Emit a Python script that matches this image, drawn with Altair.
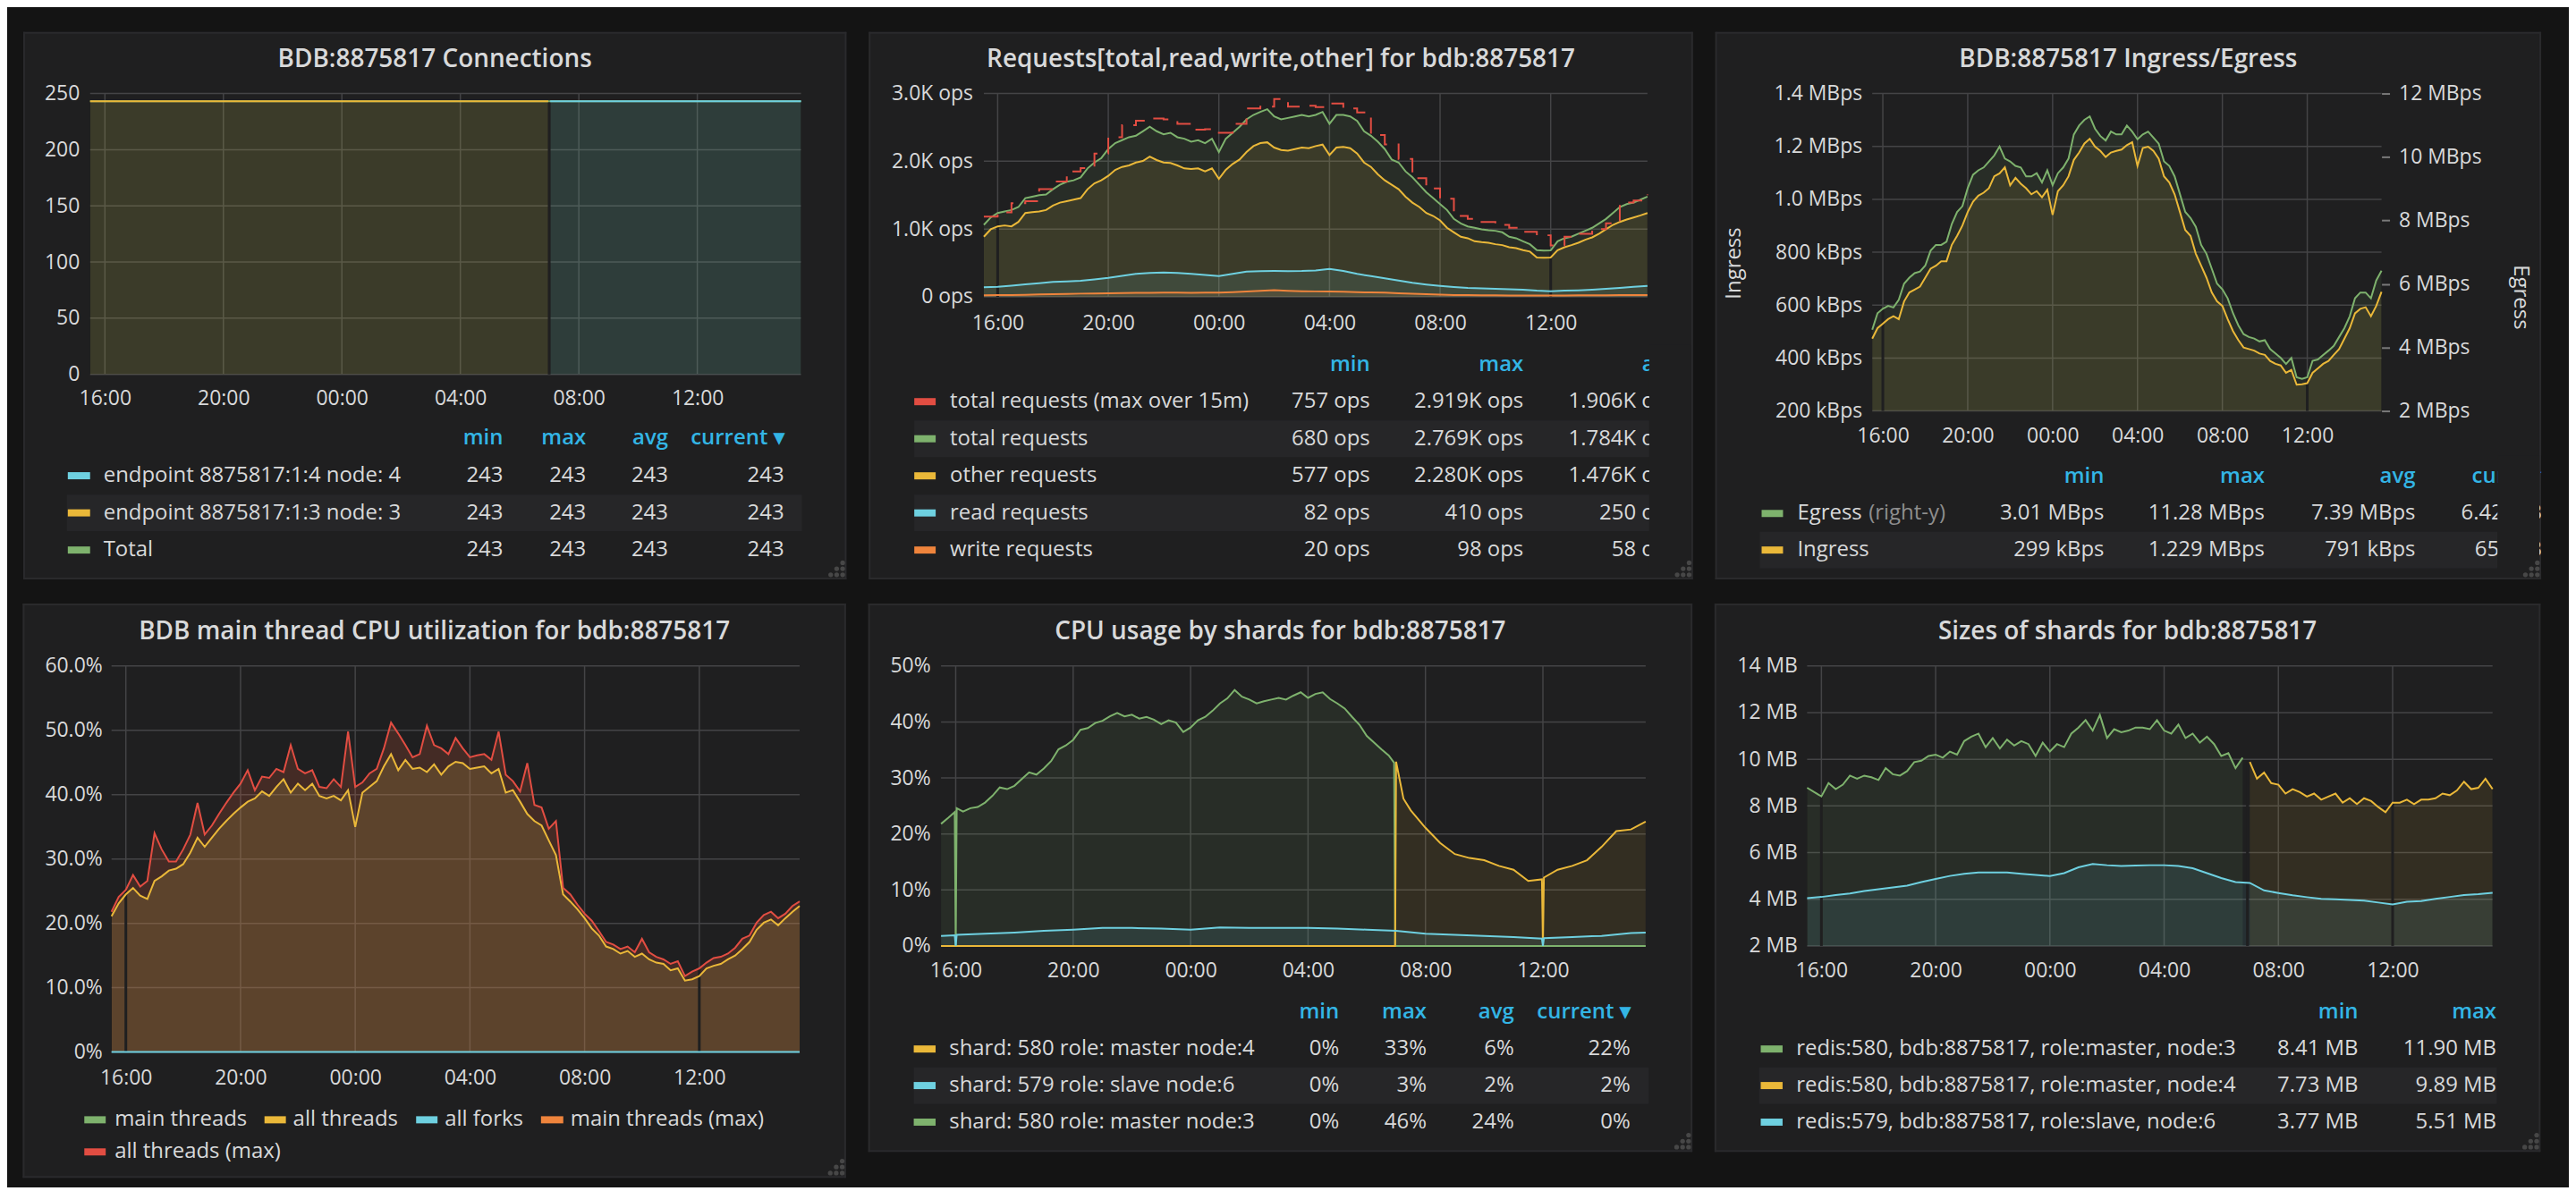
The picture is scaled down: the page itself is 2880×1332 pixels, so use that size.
import altair as alt
import pandas as pd

# ====================== DATA ======================
BASE = "2018-03-14 15:30:00"               # left edge of every time axis
GRID30 = list(range(0, 1441, 30))          # sample offsets (minutes after BASE)
GRID15 = list(range(0, 1441, 15))
TIME_TICKS = [30, 270, 510, 750, 990, 1230]  # 16:00 20:00 00:00 04:00 08:00 12:00

# ---- Panel 1 : connections
P1_YTICKS = [0, 50, 100, 150, 200, 250]
P1_YLABELS = ["0", "50", "100", "150", "200", "250"]
P1_TOTAL_T = [0, 1440]
P1_TOTAL_V = [243, 243]
P1_EP3_T = [0, 928]
P1_EP3_V = [243, 243]
P1_EP4_T = [932, 1440]
P1_EP4_V = [243, 243]
P1_GAP_T = [930]
P1_GAP_TOP = [243]
P1_NAMES = ["endpoint 8875817:1:4 node: 4", "endpoint 8875817:1:3 node: 3", "Total"]
P1_MIN = ["243", "243", "243"]
P1_MAX = ["243", "243", "243"]
P1_AVG = ["243", "243", "243"]
P1_CUR = ["243", "243", "243"]
P1_HEAD = ["min", "max", "avg", "current \u25BE"]

# ---- Panel 2 : requests (total / other every 15 min, the rest every 30 min)
P2_YTICKS = [0, 1000, 2000, 3000]
P2_YLABELS = ["0 ops", "1.0K ops", "2.0K ops", "3.0K ops"]
P2_TOTAL = [1061, 1171, 1237, 1259, 1281, 1325, 1456, 1478, 1500, 1509,
            1588, 1654, 1697, 1719, 1763, 1895, 1982, 2048, 2180, 2268,
            2311, 2355, 2377, 2443, 2509, 2443, 2399, 2421, 2355, 2333,
            2289, 2311, 2268, 2333, 2136, 2333, 2421, 2509, 2618, 2684,
            2728, 2769, 2662, 2618, 2640, 2662, 2684, 2662, 2684, 2728,
            2553, 2684, 2684, 2662, 2596, 2443, 2377, 2289, 2180, 2026,
            1982, 1851, 1763, 1654, 1544, 1456, 1368, 1281, 1149, 1083,
            1039, 1018, 996, 982, 974, 952, 886, 864, 820, 776,
            689, 682, 685, 820, 864, 886, 930, 974, 1018, 1083,
            1149, 1237, 1325, 1368, 1390, 1434, 1478]
P2_OTHER = [886, 996, 1039, 1053, 1039, 1105, 1237, 1250, 1259, 1281,
            1346, 1390, 1412, 1434, 1456, 1588, 1675, 1719, 1785, 1873,
            1917, 1939, 1982, 2004, 2070, 2018, 1982, 1974, 1939, 1895,
            1886, 1895, 1851, 1895, 1741, 1873, 1961, 2026, 2136, 2224,
            2268, 2280, 2202, 2167, 2158, 2180, 2202, 2193, 2224, 2246,
            2092, 2202, 2211, 2193, 2114, 1982, 1917, 1807, 1719, 1654,
            1588, 1478, 1390, 1325, 1237, 1193, 1127, 1018, 952, 886,
            864, 820, 807, 798, 776, 763, 732, 719, 689, 667,
            579, 577, 580, 689, 732, 763, 798, 842, 877, 930,
            996, 1061, 1105, 1140, 1171, 1202, 1237]
P2_READ = [140, 149, 165, 184, 200, 219, 228, 237, 258, 281, 310, 338, 352, 360, 352, 338, 322, 307,
           340, 373, 380, 382, 380, 382, 390, 410, 382, 338, 305, 272, 240, 206, 182, 162, 145, 132,
           125, 118, 112, 105, 90, 82, 90, 96, 105, 118, 132, 149, 162]
P2_WRITE = [22, 24, 27, 30, 34, 39, 43, 47, 50, 53, 56, 58, 60, 61, 61, 60, 61, 61,
            68, 78, 88, 98, 88, 82, 80, 78, 74, 68, 64, 61, 52, 45, 38, 31, 27, 24,
            22, 21, 20, 20, 20, 20, 20, 21, 22, 23, 24, 25, 26]
P2_MAX15 = [1184, 1246, 1380, 1412, 1588, 1700, 1851, 1900, 2114, 2355, 2531, 2600, 2632, 2618, 2553, 2465, 2474, 2420,
            2553, 2780, 2807, 2919, 2807, 2820, 2800, 2851, 2780, 2719, 2386, 2250, 2035, 1751, 1600, 1447, 1193, 1150,
            1105, 1060, 1018, 960, 908, 757, 886, 930, 1000, 1083, 1390, 1420, 1509]
P2_GAP_T = [30, 1230]
P2_GAP_TOP = [1237, 685]
P2_NAMES = ["total requests (max over 15m)", "total requests", "other requests", "read requests", "write requests"]
P2_MIN = ["757 ops", "680 ops", "577 ops", "82 ops", "20 ops"]
P2_MAX = ["2.919K ops", "2.769K ops", "2.280K ops", "410 ops", "98 ops"]
P2_AVG = ["1.906K ops", "1.784K ops", "1.476K ops", "250 ops", "58 ops"]
P2_HEAD = ["min", "max", "avg"]

# ---- Panel 3 : ingress (kBps, left) / egress (MBps, right), every 15 min
P3_LTICKS = [200, 400, 600, 800, 1000, 1200, 1400]
P3_LLABELS = ["200 kBps", "400 kBps", "600 kBps", "800 kBps", "1.0 MBps", "1.2 MBps", "1.4 MBps"]
P3_RTICKS = [2, 4, 6, 8, 10, 12]
P3_RLABELS = ["2 MBps", "4 MBps", "6 MBps", "8 MBps", "10 MBps", "12 MBps"]
P3_INGRESS = [473, 513, 530, 547, 558, 547, 614, 648, 659, 670,
              704, 738, 749, 766, 766, 828, 862, 901, 952, 991,
              1014, 1025, 1042, 1087, 1098, 1121, 1053, 1081, 1059, 1042,
              1019, 1031, 1008, 1036, 941, 1031, 1053, 1087, 1149, 1177,
              1211, 1229, 1199, 1183, 1160, 1177, 1183, 1188, 1205, 1216,
              1126, 1194, 1199, 1183, 1154, 1087, 1064, 1019, 952, 884,
              862, 794, 749, 704, 648, 614, 597, 547, 502, 468,
              440, 434, 428, 417, 412, 389, 378, 372, 344, 355,
              299, 301, 305, 344, 361, 378, 389, 412, 434, 473,
              513, 569, 586, 592, 558, 597, 650]
P3_EGRESS = [4.56, 5.08, 5.22, 5.31, 5.26, 5.50, 6.01, 6.20, 6.34, 6.39,
             6.58, 7.05, 7.23, 7.23, 7.33, 7.89, 8.27, 8.45, 9.02, 9.44,
             9.58, 9.67, 9.86, 10.05, 10.33, 9.95, 9.86, 9.72, 9.67, 9.39,
             9.39, 9.49, 9.20, 9.58, 9.11, 9.49, 9.67, 9.95, 10.71, 10.99,
             11.17, 11.28, 10.89, 10.66, 10.52, 10.80, 10.71, 10.71, 10.99, 10.80,
             10.56, 10.71, 10.80, 10.61, 10.42, 9.86, 9.72, 9.39, 8.83, 8.27,
             8.08, 7.80, 7.23, 6.95, 6.48, 6.01, 5.83, 5.55, 5.08, 4.70,
             4.42, 4.33, 4.28, 4.19, 4.23, 3.95, 3.81, 3.67, 3.48, 3.67,
             3.06, 3.01, 3.06, 3.58, 3.62, 3.76, 3.90, 4.05, 4.33, 4.61,
             4.98, 5.55, 5.73, 5.73, 5.55, 6.11, 6.42]
P3_GAP_T = [30, 1230]
P3_GAP_TOP = [586, 327]
P3_NAMES = ["Egress", "Ingress"]
P3_MIN = ["3.01 MBps", "299 kBps"]
P3_MAX = ["11.28 MBps", "1.229 MBps"]
P3_AVG = ["7.39 MBps", "791 kBps"]
P3_CUR = ["6.42 MBps", "650 kBps"]
P3_HEAD = ["min", "max", "avg", "current \u25BE"]

# ---- Panel 4 : main thread CPU (15 min samples)
P4_YTICKS = [0, 10, 20, 30, 40, 50, 60]
P4_YLABELS = ["0%", "10.0%", "20.0%", "30.0%", "40.0%", "50.0%", "60.0%"]
P4_ALL = [21.1, 23.1, 24.5, 25.5, 24.3, 23.8, 26.6, 27.3, 28.2, 28.5,
          29.2, 31.0, 33.3, 31.9, 33.3, 34.7, 35.9, 37.0, 38.0, 38.9,
          39.4, 40.5, 39.8, 41.2, 42.4, 40.3, 41.7, 40.7, 41.7, 39.8,
          39.4, 39.8, 39.1, 40.7, 35.0, 40.3, 41.2, 42.1, 44.4, 46.3,
          43.8, 45.4, 44.0, 44.2, 43.5, 44.7, 43.1, 44.4, 45.1, 44.9,
          44.0, 44.2, 44.4, 43.3, 44.0, 40.3, 40.7, 38.9, 37.0, 35.9,
          35.2, 32.9, 30.6, 24.5, 23.4, 22.2, 20.8, 19.2, 18.1, 16.4,
          16.0, 15.3, 15.7, 14.8, 15.3, 14.4, 13.9, 13.7, 12.7, 13.0,
          11.1, 11.3, 11.8, 13.0, 13.4, 13.7, 14.4, 15.0, 16.0, 17.1,
          19.0, 20.1, 20.6, 19.7, 20.8, 21.8, 22.7]
P4_ALLMAX = [21.8, 24.1, 25.2, 27.5, 25.7, 26.6, 34.0, 31.5, 29.6, 29.6,
             31.5, 33.8, 38.7, 33.8, 35.2, 37.0, 38.7, 40.3, 41.7, 43.8,
             40.7, 42.8, 42.6, 44.0, 43.5, 47.7, 44.0, 43.3, 43.8, 41.2,
             41.0, 42.4, 41.2, 49.8, 41.2, 41.9, 43.3, 44.0, 47.2, 51.2,
             49.5, 47.7, 45.8, 46.3, 50.7, 47.7, 47.2, 46.3, 48.8, 47.2,
             45.8, 46.1, 46.3, 45.4, 49.8, 43.1, 42.1, 40.5, 44.9, 38.4,
             38.0, 34.7, 35.9, 25.5, 24.5, 22.9, 21.5, 20.4, 18.8, 17.1,
             16.7, 16.0, 16.4, 15.5, 17.6, 15.5, 14.8, 14.4, 13.7, 14.1,
             11.8, 12.5, 13.0, 13.9, 14.6, 14.8, 15.3, 16.2, 17.6, 18.1,
             20.1, 21.3, 21.8, 20.8, 21.5, 22.7, 23.4]
P4_FORKS_T = [0, 1440]
P4_FORKS = [0.0, 0.0]
P4_GAP_T = [30, 1230]
P4_GAP_TOP = [25.2, 13.0]
P4_NAMES = ["main threads", "all threads", "all forks", "main threads (max)", "all threads (max)"]

# ---- Panel 5 : CPU by shards
P5_YTICKS = [0, 10, 20, 30, 40, 50]
P5_YLABELS = ["0%", "10%", "20%", "30%", "40%", "50%"]
P5_N3_T = [0, 15, 28, 30, 32, 45] + GRID15[4:62] + [926, 928, 1440]
P5_N3_V = [21.8, 22.9, 23.9, 0, 24.6, 24.0,
           24.6, 24.8, 25.6, 26.8, 28.3, 28.0, 28.6, 29.8, 31.0, 30.6,
           31.7, 33.0, 35.1, 35.8, 36.8, 38.6, 38.9, 39.8, 40.2, 41.0,
           41.6, 41.0, 41.3, 40.6, 40.9, 40.4, 39.6, 40.3, 39.9, 38.2,
           39.0, 40.3, 40.9, 42.0, 43.3, 44.2, 45.7, 44.5, 44.0, 43.3,
           43.7, 44.0, 44.3, 44.0, 44.7, 45.3, 44.3, 45.0, 45.3, 44.1,
           43.3, 42.4, 40.9, 39.5, 37.5, 36.3, 35.1, 34.0,
           32.7, 0, 0]
P5_N4_T = [0, 928, 930, 945, 960, 990, 1020, 1050, 1080, 1110, 1140, 1170, 1200, 1228, 1230, 1232, 1260, 1290,
           1320, 1350, 1380, 1410, 1440]
P5_N4_V = [0, 0, 32.9, 26.3, 24.2, 21.1, 18.4, 16.4, 15.7, 15.3, 14.3, 13.6, 11.6, 11.9, 0, 12.2, 13.6, 14.3,
           15.3, 17.7, 20.5, 20.8, 22.2]
P5_N6_T = [0, 28, 30, 32, 90, 150, 210, 270, 330, 390, 450, 510, 570, 630, 690, 750, 810, 870, 930, 990, 1050,
           1110, 1170, 1228, 1230, 1232, 1290, 1350, 1410, 1440]
P5_N6_V = [1.8, 1.9, 0, 2.0, 2.2, 2.4, 2.7, 2.9, 3.2, 3.2, 3.1, 2.9, 3.3, 3.2, 3.2, 3.2, 3.1, 2.9, 2.7, 2.2, 2.0,
           1.8, 1.6, 1.3, 0, 1.4, 1.6, 1.8, 2.3, 2.4]
P5_NAMES = ["shard: 580 role: master node:4", "shard: 579 role: slave node:6", "shard: 580 role: master node:3"]
P5_MIN = ["0%", "0%", "0%"]
P5_MAX = ["33%", "3%", "46%"]
P5_AVG = ["6%", "2%", "24%"]
P5_CUR = ["22%", "2%", "0%"]
P5_HEAD = ["min", "max", "avg", "current \u25BE"]

# ---- Panel 6 : shard sizes (masters every 15 min, slave every 30 min)
P6_YTICKS = [2, 4, 6, 8, 10, 12, 14]
P6_YLABELS = ["2 MB", "4 MB", "6 MB", "8 MB", "10 MB", "12 MB", "14 MB"]
P6_N3_T = GRID15[:62]
P6_N3_V = [8.78, 8.59, 8.41, 8.98, 8.72, 8.91, 9.30, 9.17, 9.30, 9.23,
           9.11, 9.62, 9.36, 9.30, 9.49, 9.88, 9.94, 10.14, 10.20, 10.07,
           10.33, 10.20, 10.78, 10.97, 11.10, 10.52, 10.91, 10.46, 10.84, 10.59,
           10.78, 10.65, 10.14, 10.71, 10.33, 10.65, 10.52, 11.10, 11.36, 11.68,
           11.23, 11.90, 10.91, 11.29, 11.16, 11.23, 11.36, 11.36, 11.29, 11.68,
           11.23, 11.10, 11.49, 10.91, 11.10, 10.71, 10.97, 10.65, 10.14, 10.26,
           9.62, 10.07]
P6_N4_T = GRID15[62:]
P6_N4_V = [9.89, 9.17, 9.43, 8.98, 8.91, 8.53, 8.72, 8.59, 8.40, 8.53,
           8.27, 8.40, 8.53, 8.14, 8.33, 8.08, 8.33, 8.21, 7.95, 7.73,
           8.14, 8.14, 8.27, 8.08, 8.27, 8.27, 8.33, 8.53, 8.46, 8.66,
           9.04, 8.72, 8.78, 9.17, 8.72]
P6_N6_V = [4.05, 4.10, 4.18, 4.25, 4.35, 4.43, 4.51, 4.58, 4.74, 4.87, 5.00, 5.09, 5.15, 5.15, 5.15, 5.09, 5.04, 5.00,
           5.12, 5.37, 5.51, 5.46, 5.43, 5.45, 5.46, 5.46, 5.43, 5.33, 5.12, 4.91, 4.74, 4.70, 4.38, 4.27, 4.17, 4.09,
           4.02, 4.00, 3.97, 3.94, 3.86, 3.78, 3.89, 3.92, 4.02, 4.10, 4.18, 4.22, 4.28]
P6_GAP_T = [30, 925, 1230]
P6_GAP_TOP = [8.5, 9.9, 8.14]
P6_NAMES = ["redis:580, bdb:8875817, role:master, node:3", "redis:580, bdb:8875817, role:master, node:4",
            "redis:579, bdb:8875817, role:slave, node:6"]
P6_MIN = ["8.41 MB", "7.73 MB", "3.77 MB"]
P6_MAX = ["11.90 MB", "9.89 MB", "5.51 MB"]
P6_HEAD = ["min", "max"]

# ====================== STYLE ======================
FONT = "Open Sans"
PAGE = "#141414"
PANEL = "#1f1f20"
BORDER = "#2a2a2c"
ALTROW = "#262628"
TEXT = "#d8d9da"
HEAD = "#33b5e5"
MUTED = "#8e8e8e"
GRIDC = "#444446"
DOTC = "#474747"
GREEN, YELLOW, BLUE, ORANGE, RED = "#7EB26D", "#EAB839", "#6ED0E0", "#EF843C", "#E24D42"

# panel geometry in page pixels (minus the 8px page margin)
G1 = dict(PL=15, PR=938, PT=25, PB=639, XL=90, XR=887, YT=94, YB=409, TX=476.5, TY=56)
G2 = dict(PL=961, PR=1885, PT=25, PB=639, XL=1090, XR=1834, YT=94, YB=322, TX=1423, TY=56)
G3 = dict(PL=1908, PR=2834, PT=25, PB=639, XL=2084, XR=2655, YT=94, YB=450, TX=2371, TY=56)
G4 = dict(PL=15, PR=938, PT=664, PB=1308, XL=114.5, XR=886, YT=734, YB=1167, TX=476.5, TY=696)
G5 = dict(PL=961, PR=1885, PT=664, PB=1279, XL=1042.6, XR=1832.6, YT=734, YB=1048, TX=1423, TY=696)
G6 = dict(PL=1908, PR=2834, PT=664, PB=1279, XL=2011.8, XR=2780.3, YT=734, YB=1048, TX=2371, TY=696)

T0 = pd.Timestamp(BASE)
ONE = pd.DataFrame({"k": [0]})


def ts(mins):
    return [(T0 + pd.Timedelta(minutes=int(m))).strftime("%Y-%m-%dT%H:%M:%S") for m in mins]


def dt(m):
    t = T0 + pd.Timedelta(minutes=int(m))
    return alt.DateTime(year=t.year, month=t.month, date=t.day, hours=t.hour, minutes=t.minute)


def lab_expr(vals, labs):
    e = "''"
    for v, l in reversed(list(zip(vals, labs))):
        e = "datum.value == %s ? '%s' : (%s)" % (v, l, e)
    return e


AXC = dict(grid=False, domain=False, labelFont=FONT, labelFontSize=23, labelColor=TEXT,
           labelFlush=False, labelOverlap=False, zindex=1)


def x_enc(pad):
    ax = alt.Axis(values=[dt(m) for m in TIME_TICKS], format="%H:%M", formatType="time", ticks=False,
                  tickSize=0, labelPadding=pad, labelBaseline="middle", **AXC)
    return alt.X("t:T", scale=alt.Scale(domain=[dt(0), dt(1440)], nice=False), axis=ax, title=None)


def y_axis(vals, labs, pad, **kw):
    d = dict(values=vals, labelExpr=lab_expr(vals, labs), ticks=False, tickSize=0, labelPadding=pad)
    d.update(AXC)
    d.update(kw)
    return alt.Axis(**d)


def y_enc(lo, hi, axis, title=None):
    return alt.Y("v:Q", scale=alt.Scale(domain=[lo, hi], nice=False, zero=False), axis=axis, title=title)


def sdf(T, V):
    return pd.DataFrame({"t": ts(T), "v": V})


def area(T, V, c, xe, ye):
    return alt.Chart(sdf(T, V)).mark_area(color=c, fillOpacity=0.1, clip=True).encode(x=xe, y=ye)


def line(T, V, c, xe, ye, **kw):
    return alt.Chart(sdf(T, V)).mark_line(color=c, strokeWidth=2, **kw).encode(x=xe, y=ye)


def gaps(T, TOP, lo, xe, ye):
    d = sdf(T, TOP)
    d["b"] = lo
    return alt.Chart(d).mark_rule(color=PANEL, strokeWidth=3).encode(x=xe, y=ye, y2=alt.Y2("b:Q"))


def hgrid(vals, ye):
    return alt.Chart(pd.DataFrame({"v": vals})).mark_rule(color=GRIDC, strokeWidth=1.5).encode(y=ye)


def vgrid(xe):
    return alt.Chart(pd.DataFrame({"t": ts(TIME_TICKS)})).mark_rule(color=GRIDC, strokeWidth=1.5).encode(x=xe)


def box(color, x0, x1, y0, y1):
    return alt.Chart(ONE).mark_rect(color=color).encode(
        x=alt.value(x0), x2=alt.value(x1), y=alt.value(y0), y2=alt.value(y1))


def table_legend(g, names, colors, columns, headers, col_x, alt_rows, head_y, last_y, sw, name_x, alt_x,
                 extra=None):
    XL, Y0 = g["XL"], g["YT"]
    keys = ["r%d" % i for i in range(len(names))]
    ysc = alt.Scale(type="point", domain=["h"] + keys, range=[head_y - Y0, last_y - Y0], padding=0)
    ye = alt.Y("key:N", scale=ysc, axis=None)
    df = pd.DataFrame({"key": keys, "name": names, "color": colors})
    for i, col in enumerate(columns):
        df["c%d" % i] = col
    layers = [
        alt.Chart(df.iloc[alt_rows]).mark_rule(color=ALTROW, strokeWidth=41).encode(
            y=ye, x=alt.value(alt_x[0] - XL), x2=alt.value(alt_x[1] - XL)),
        alt.Chart(df).mark_rule(strokeWidth=8).encode(
            y=ye, x=alt.value(sw[0] - XL), x2=alt.value(sw[1] - XL), color=alt.Color("color:N", scale=None)),
        alt.Chart(df).mark_text(align="left", baseline="middle", font=FONT, fontSize=24, color=TEXT).encode(
            y=ye, x=alt.value(name_x - XL), text="name:N"),
    ]
    if extra:
        for (row, txt, xx, col) in extra:
            layers.append(alt.Chart(pd.DataFrame({"key": [row], "label": [txt]})).mark_text(
                align="left", baseline="middle", font=FONT, fontSize=24, color=col).encode(
                y=ye, x=alt.value(xx - XL), text="label:N"))
    for i, cx in enumerate(col_x):
        layers.append(alt.Chart(df).mark_text(align="right", baseline="middle", font=FONT, fontSize=24,
                                              color=TEXT).encode(
            y=ye, x=alt.value(cx - XL), text="c%d:N" % i))
        layers.append(alt.Chart(pd.DataFrame({"key": ["h"], "label": [headers[i]]})).mark_text(
            align="right", baseline="middle", font=FONT, fontSize=24, fontWeight=600, color=HEAD).encode(
            y=ye, x=alt.value(cx - XL), text="label:N"))
    return alt.layer(*layers)


def inline_legend(g, names, colors, row_y, items):
    XL, Y0 = g["XL"], g["YT"]
    ysc = alt.Scale(type="point", domain=["a", "b"], range=[row_y[0] - Y0, row_y[1] - Y0], padding=0)
    ye = alt.Y("key:N", scale=ysc, axis=None)
    layers = []
    for name, col, (s0, s1, tx, row) in zip(names, colors, items):
        d = pd.DataFrame({"key": [row], "name": [name]})
        layers.append(alt.Chart(d).mark_rule(strokeWidth=8, color=col).encode(
            y=ye, x=alt.value(s0 - XL), x2=alt.value(s1 - XL)))
        layers.append(alt.Chart(d).mark_text(align="left", baseline="middle", font=FONT, fontSize=24,
                                             color=TEXT).encode(y=ye, x=alt.value(tx - XL), text="name:N"))
    return alt.layer(*layers)


def build_panel(g, title, data, legend, covers=()):
    XL, Y0 = g["XL"], g["YT"]
    W = g["XR"] - XL
    H = g["YB"] - Y0
    x0, x1 = g["PL"] - XL, g["PR"] - XL
    y0, y1 = g["PT"] - Y0, g["PB"] - Y0
    deco = [
        box(PANEL, x0, x1, y0, y1),
        box(BORDER, x0, x0 + 2, y0, y1),
        box(BORDER, x1 - 2, x1, y0, y1),
        box(BORDER, x0, x1, y0, y0 + 2),
        box(BORDER, x0, x1, y1 - 2, y1),
    ]
    dots = [alt.Chart(ONE).mark_circle(size=28, color=DOTC, opacity=1).encode(
        x=alt.value(x1 + dx), y=alt.value(y1 + dy))
        for dx, dy in [(-17.7, -5.3), (-11, -5.3), (-4.3, -5.3), (-11, -12), (-4.3, -12), (-4.3, -18.7)]]
    cov = [box(c, a - XL, b - XL, t - Y0, u - Y0) for (c, a, b, t, u) in covers]
    ttl = alt.Chart(ONE).mark_text(text=title, font=FONT, fontSize=28, fontWeight=600, color=TEXT,
                                   align="center", baseline="middle").encode(
        x=alt.value(g["TX"] - XL), y=alt.value(g["TY"] - Y0))
    return alt.layer(*deco, *data, legend, *cov, *dots, ttl).resolve_scale(y="independent").properties(
        width=W, height=H)


# ====================== PANELS ======================
# Panel 1
xe = x_enc(27)
ye = y_enc(0, 250, y_axis(P1_YTICKS, P1_YLABELS, 12))
p1 = build_panel(G1, "BDB:8875817 Connections", [alt.layer(
    hgrid(P1_YTICKS, ye), vgrid(xe),
    area(P1_TOTAL_T, P1_TOTAL_V, GREEN, xe, ye),
    area(P1_EP3_T, P1_EP3_V, YELLOW, xe, ye),
    area(P1_EP4_T, P1_EP4_V, BLUE, xe, ye),
    gaps(P1_GAP_T, P1_GAP_TOP, 0, xe, ye),
    line(P1_TOTAL_T, P1_TOTAL_V, GREEN, xe, ye),
    line(P1_EP3_T, P1_EP3_V, YELLOW, xe, ye),
    line(P1_EP4_T, P1_EP4_V, BLUE, xe, ye),
)], table_legend(G1, P1_NAMES, [BLUE, YELLOW, GREEN], [P1_MIN, P1_MAX, P1_AVG, P1_CUR], P1_HEAD,
                 [553, 646, 738, 868], [1], 481, 606, (65, 90), 105, (64, 888)))

# Panel 2
xe = x_enc(30)
ye = y_enc(0, 3000, y_axis(P2_YTICKS, P2_YLABELS, 12.5))
p2 = build_panel(G2, "Requests[total,read,write,other] for bdb:8875817", [alt.layer(
    hgrid(P2_YTICKS, ye), vgrid(xe),
    area(GRID15, P2_TOTAL, GREEN, xe, ye),
    area(GRID15, P2_OTHER, YELLOW, xe, ye),
    area(GRID30, P2_READ, BLUE, xe, ye),
    area(GRID30, P2_WRITE, ORANGE, xe, ye),
    gaps(P2_GAP_T, P2_GAP_TOP, 0, xe, ye),
    line(GRID30, P2_WRITE, ORANGE, xe, ye),
    line(GRID30, P2_READ, BLUE, xe, ye),
    line(GRID15, P2_OTHER, YELLOW, xe, ye),
    line(GRID15, P2_TOTAL, GREEN, xe, ye),
    line(GRID30, P2_MAX15, RED, xe, ye, strokeDash=[18, 12], interpolate="step-after"),
)], table_legend(G2, P2_NAMES, [RED, GREEN, YELLOW, BLUE, ORANGE], [P2_MIN, P2_MAX, P2_AVG], P2_HEAD,
                 [1523, 1695, 1868], [1, 3], 398, 606, (1012, 1036), 1052, (1012, 1836)),
    covers=[(PANEL, 1836, 1883, 376, 630)])

# Panel 3 (two independent y scales)
xe = x_enc(28)
yl_ax = y_axis(P3_LTICKS, P3_LLABELS, 11.6, title="Ingress", titleFont=FONT, titleFontSize=24,
               titleColor=TEXT, titleFontWeight="normal", titleAngle=270, titleX=-155, titleY=190,
               titleAlign="center", titleBaseline="middle")
yr_ax = y_axis(P3_RTICKS, P3_RLABELS, 10, orient="right", ticks=True, tickSize=9, tickWidth=2,
               tickColor="#7a7a7a", title="Egress", titleFont=FONT, titleFontSize=24, titleColor=TEXT,
               titleFontWeight="normal", titleAngle=90, titleX=155, titleY=228, titleAlign="center",
               titleBaseline="middle")
yl = y_enc(200, 1400, yl_ax, "Ingress")
yl_n = y_enc(200, 1400, None)
yr = y_enc(2, 12, yr_ax, "Egress")
yr_n = y_enc(2, 12, None)
p3 = build_panel(G3, "BDB:8875817 Ingress/Egress", [
    hgrid(P3_LTICKS, yl), vgrid(xe),
    area(GRID15, P3_INGRESS, YELLOW, xe, yl_n),
    area(GRID15, P3_EGRESS, GREEN, xe, yr),
    gaps(P3_GAP_T, P3_GAP_TOP, 200, xe, yl_n),
    line(GRID15, P3_INGRESS, YELLOW, xe, yl_n),
    line(GRID15, P3_EGRESS, GREEN, xe, yr_n),
], table_legend(G3, P3_NAMES, [GREEN, YELLOW], [P3_MIN, P3_MAX, P3_AVG, P3_CUR], P3_HEAD,
                [2344, 2524, 2693, 2861], [1], 524, 606, (1960, 1984), 2000, (1958, 2785),
                extra=[("r0", "(right-y)", 2080, MUTED)]),
    covers=[(PANEL, 2785, 2832, 500, 630), (PAGE, 2834, 2864, 500, 630)])

# Panel 4
xe = x_enc(29)
ye = y_enc(0, 60, y_axis(P4_YTICKS, P4_YLABELS, 10.5))
p4 = build_panel(G4, "BDB main thread CPU utilization for bdb:8875817", [alt.layer(
    hgrid(P4_YTICKS, ye), vgrid(xe),
    area(GRID15, P4_ALL, GREEN, xe, ye),
    area(GRID15, P4_ALL, YELLOW, xe, ye),
    area(GRID15, P4_ALLMAX, ORANGE, xe, ye),
    area(GRID15, P4_ALLMAX, RED, xe, ye),
    gaps(P4_GAP_T, P4_GAP_TOP, 0, xe, ye),
    line(P4_FORKS_T, P4_FORKS, BLUE, xe, ye),
    line(GRID15, P4_ALL, YELLOW, xe, ye),
    line(GRID15, P4_ALLMAX, RED, xe, ye),
)], inline_legend(G4, P4_NAMES, [GREEN, YELLOW, BLUE, ORANGE, RED], (1243, 1279),
                  [(84, 108, 118, "a"), (286, 310, 318, "a"), (456, 480, 488, "a"),
                   (596, 621, 629, "a"), (84, 108, 118, "b")]))

# Panel 5
xe = x_enc(28)
ye = y_enc(0, 50, y_axis(P5_YTICKS, P5_YLABELS, 12))
p5 = build_panel(G5, "CPU usage by shards for bdb:8875817", [alt.layer(
    hgrid(P5_YTICKS, ye), vgrid(xe),
    area(P5_N3_T, P5_N3_V, GREEN, xe, ye),
    area(P5_N4_T, P5_N4_V, YELLOW, xe, ye),
    area(P5_N6_T, P5_N6_V, BLUE, xe, ye),
    line(P5_N3_T, P5_N3_V, GREEN, xe, ye),
    line(P5_N4_T, P5_N4_V, YELLOW, xe, ye),
    line(P5_N6_T, P5_N6_V, BLUE, xe, ye),
)], table_legend(G5, P5_NAMES, [YELLOW, BLUE, GREEN], [P5_MIN, P5_MAX, P5_AVG, P5_CUR], P5_HEAD,
                 [1489, 1587, 1685, 1815.4], [1], 1122.6, 1245.6, (1012, 1036.5), 1051.8, (1012, 1836)))

# Panel 6
xe = x_enc(28)
ye = y_enc(2, 14, y_axis(P6_YTICKS, P6_YLABELS, 11))
p6 = build_panel(G6, "Sizes of shards for bdb:8875817", [alt.layer(
    hgrid(P6_YTICKS, ye), vgrid(xe),
    area(P6_N3_T, P6_N3_V, GREEN, xe, ye),
    area(P6_N4_T, P6_N4_V, YELLOW, xe, ye),
    area(GRID30, P6_N6_V, BLUE, xe, ye),
    gaps(P6_GAP_T, P6_GAP_TOP, 2, xe, ye),
    line(P6_N3_T, P6_N3_V, GREEN, xe, ye),
    line(P6_N4_T, P6_N4_V, YELLOW, xe, ye),
    line(GRID30, P6_N6_V, BLUE, xe, ye),
)], table_legend(G6, P6_NAMES, [GREEN, YELLOW, BLUE], [P6_MIN, P6_MAX], P6_HEAD,
                 [2629.7, 2784.6], [1], 1122.6, 1245.6, (1959.8, 1984.3), 1999.6, (1958, 2785)))


# ====================== LAYOUT ======================
def spacer():
    return alt.Chart(ONE).mark_rect(opacity=0).encode(
        x=alt.value(0), x2=alt.value(1), y=alt.value(0), y2=alt.value(1)).properties(width=1, height=1)


row1 = alt.hconcat(spacer(), alt.hconcat(p1, p2, p3, spacing=23), spacing=0)
row2 = alt.hconcat(spacer(), alt.hconcat(p4, p5, p6, spacing=23), spacing=0)

chart = alt.vconcat(row1, row2, spacing=25).properties(
    padding={"left": 14, "top": 25, "right": 0, "bottom": 8},
    background=PAGE,
).configure_view(stroke="transparent")

chart.save("out.html", embed_options={"renderer": "svg", "actions": False})
